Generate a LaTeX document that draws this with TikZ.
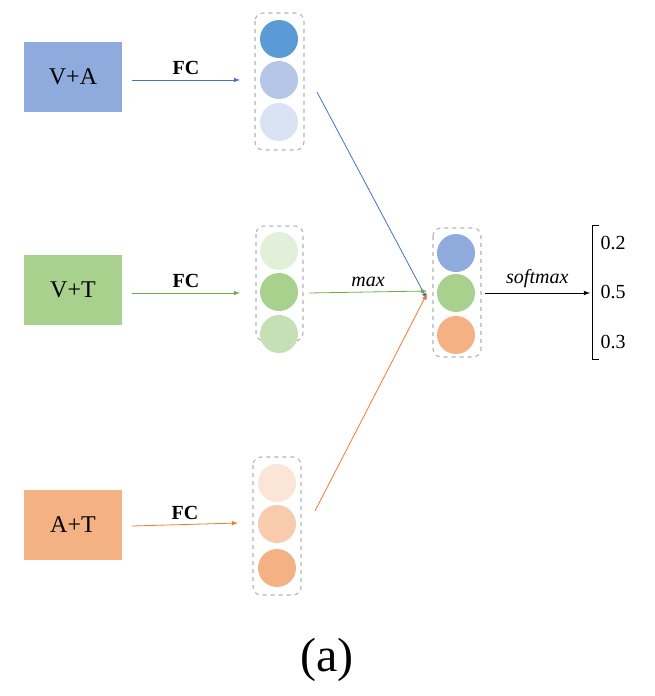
\documentclass[tikz,border=0pt]{standalone}
\usepackage{fontspec}
\setmainfont{Liberation Serif}
\definecolor{myBlue}{RGB}{143,170,220}
\definecolor{myGreen}{RGB}{169,209,142}
\definecolor{myOrange}{RGB}{244,177,131}
\definecolor{lineBlue}{RGB}{68,114,196}
\definecolor{lineGreen}{RGB}{112,173,71}
\definecolor{lineOrange}{RGB}{237,125,49}
\tikzset{
  inbox/.style={minimum width=73pt,minimum height=52pt,inner sep=0pt,font=\fontsize{18}{20}\selectfont},
  cell/.style={circle,minimum size=28.5pt,inner sep=0pt},
  group/.style={draw=gray!60,dashed,thick,rounded corners=6pt},
  flow/.style={-latex,semithick},
  lab/.style={font=\fontsize{15}{16}\selectfont},
}
\begin{document}
\begin{tikzpicture}[x=0.75pt,y=-0.75pt]
	\useasboundingbox (0,0) rectangle (655,696);
	% inputs
	\node[inbox,fill=myBlue] (va) at (73,77) {V+A};
	\node[inbox,fill=myGreen] (vt) at (73,290) {V+T};
	\node[inbox,fill=myOrange] (at) at (73,525) {A+T};
	% feature columns
	\begin{scope}
		\draw[group] (255,13) rectangle (304,150);
		\node[cell,fill={rgb,255:red,91;green,155;blue,213}] (va1) at (279,39) {};
		\node[cell,fill={rgb,255:red,180;green,199;blue,231}] (va2) at (279,80) {};
		\node[cell,fill={rgb,255:red,218;green,227;blue,243}] (va3) at (279,122) {};
	\end{scope}
	\begin{scope}
		\draw[group] (256,226) rectangle (303,341);
		\node[cell,fill={rgb,255:red,226;green,240;blue,217}] (vt1) at (279,251) {};
		\node[cell,fill=myGreen] (vt2) at (279,292) {};
		\node[cell,fill={rgb,255:red,197;green,224;blue,180}] (vt3) at (279,334) {};
	\end{scope}
	\begin{scope}
		\draw[group] (253,457) rectangle (301,595);
		\node[cell,fill={rgb,255:red,251;green,229;blue,214}] (at1) at (277,483) {};
		\node[cell,fill={rgb,255:red,248;green,203;blue,173}] (at2) at (277,524) {};
		\node[cell,fill=myOrange] (at3) at (277,568) {};
	\end{scope}
	\begin{scope}
		\draw[group] (433,228) rectangle (481,357);
		\node[cell,fill=myBlue] (r1) at (456,253) {};
		\node[cell,fill=myGreen] (r2) at (456,293) {};
		\node[cell,fill=myOrange] (r3) at (456,335) {};
	\end{scope}
	\coordinate (hit) at (427,291);
	\coordinate (va0) at (317,92);
	\coordinate (vt0) at (309,293);
	\coordinate (at0) at (315,511);
	% connectors
	\draw[flow,lineBlue] (va.east) ++(10,3) -- node[above,black,lab]{\textbf{FC}} (240,80);
	\draw[flow,lineGreen] (vt.east) ++(10,3) -- node[above,black,lab]{\textbf{FC}} (240,293);
	\draw[flow,lineOrange] (at.east) ++(10,1) -- node[above,black,lab]{\textbf{FC}} (238,523);
	\draw[flow,lineBlue] (va0) -- ([yshift=-6]hit);
	\draw[flow,lineGreen] (vt0) -- node[above,black,lab]{\textit{max}} (hit);
	\draw[flow,lineOrange] (at0) -- ([yshift=-2]hit);
	\coordinate (sm) at (590,293);
	\draw[-latex,semithick] ([xshift=7]r2.east) -- node[above,lab]{\textit{softmax}} (sm);
	% output
	\draw[semithick] (599,225) -- (592,225) -- (592,359) -- (599,359);
	\node[lab,anchor=west] (p1) at (596,243) {0.2};
	\node[lab,anchor=west] (p2) at (596,292) {0.5};
	\node[lab,anchor=west] (p3) at (596,342) {0.3};
	\node[font=\fontsize{36}{40}\selectfont] (cap) at (327,660) {(a)};
\end{tikzpicture}
\end{document}
